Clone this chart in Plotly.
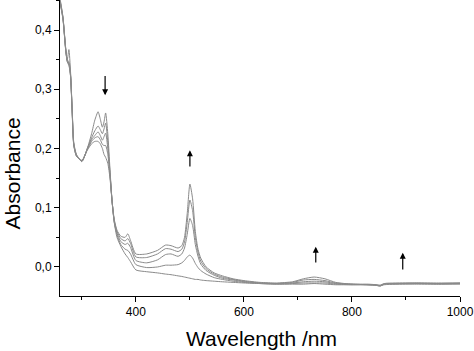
import plotly.graph_objects as go

wavelength = [260, 265, 270, 273, 276, 279, 282, 285, 290, 300, 310, 318, 324, 330, 334, 338, 341, 344, 348, 352, 356, 360,
              365, 372, 380, 385, 390, 400, 420, 440, 455, 465, 478, 485, 490, 495, 500, 505, 510, 515, 520, 530,
              545, 560, 580, 600, 630, 660, 690, 710, 730, 750, 770, 800, 830, 845, 852, 860, 880, 920, 960, 1000]

abs_a = [0.444, 0.418, 0.366, 0.346, 0.340, 0.322, 0.262, 0.205, 0.187, 0.180, 0.197, 0.208, 0.212, 0.212, 0.208, 0.200, 0.190, 0.185, 0.175, 0.150, 0.110, 0.080,
         0.062, 0.052, 0.050, 0.056, 0.045, 0.022, 0.022, 0.028, 0.037, 0.036, 0.032, 0.036, 0.050, 0.090, 0.140, 0.115, 0.060, 0.030, 0.015, 0.000,
         -0.010, -0.015, -0.020, -0.023, -0.026, -0.027, -0.025, -0.020, -0.017, -0.020, -0.026, -0.029, -0.029, -0.030, -0.031, -0.028, -0.027, -0.027, -0.027, -0.027]

abs_b = [0.446, 0.419, 0.367, 0.347, 0.342, 0.323, 0.263, 0.206, 0.187, 0.179, 0.198, 0.212, 0.218, 0.220, 0.215, 0.207, 0.205, 0.205, 0.190, 0.155, 0.110, 0.078,
         0.060, 0.048, 0.044, 0.048, 0.040, 0.017, 0.016, 0.022, 0.031, 0.030, 0.026, 0.030, 0.042, 0.075, 0.113, 0.095, 0.050, 0.025, 0.010, -0.003,
         -0.012, -0.017, -0.021, -0.024, -0.027, -0.028, -0.026, -0.022, -0.021, -0.023, -0.027, -0.029, -0.030, -0.030, -0.031, -0.028, -0.028, -0.027, -0.028, -0.027]

abs_c = [0.447, 0.420, 0.368, 0.348, 0.344, 0.324, 0.264, 0.207, 0.188, 0.179, 0.199, 0.215, 0.222, 0.228, 0.222, 0.214, 0.220, 0.226, 0.200, 0.158, 0.110, 0.076,
         0.057, 0.043, 0.038, 0.040, 0.033, 0.011, 0.007, 0.012, 0.021, 0.022, 0.018, 0.022, 0.032, 0.055, 0.082, 0.070, 0.038, 0.018, 0.005, -0.006,
         -0.014, -0.019, -0.022, -0.025, -0.027, -0.028, -0.027, -0.025, -0.024, -0.025, -0.028, -0.029, -0.030, -0.031, -0.032, -0.029, -0.028, -0.028, -0.028, -0.028]

abs_d = [0.449, 0.421, 0.369, 0.349, 0.347, 0.326, 0.266, 0.208, 0.189, 0.178, 0.200, 0.218, 0.230, 0.238, 0.232, 0.225, 0.233, 0.243, 0.210, 0.160, 0.110, 0.075,
         0.054, 0.038, 0.030, 0.028, 0.022, 0.004, -0.001, 0.000, 0.003, 0.003, 0.004, 0.007, 0.011, 0.017, 0.020, 0.015, 0.006, -0.001, -0.006, -0.012,
         -0.018, -0.021, -0.024, -0.026, -0.028, -0.029, -0.028, -0.027, -0.027, -0.027, -0.029, -0.030, -0.030, -0.031, -0.032, -0.029, -0.029, -0.028, -0.029, -0.028]

abs_e = [0.451, 0.422, 0.370, 0.350, 0.367, 0.330, 0.268, 0.210, 0.190, 0.178, 0.200, 0.225, 0.248, 0.262, 0.250, 0.236, 0.245, 0.260, 0.225, 0.165, 0.110, 0.075,
         0.050, 0.035, 0.022, 0.016, 0.009, -0.005, -0.008, -0.010, -0.012, -0.013, -0.015, -0.016, -0.017, -0.018, -0.019, -0.020, -0.021, -0.021, -0.022, -0.023,
         -0.024, -0.025, -0.026, -0.027, -0.028, -0.029, -0.029, -0.029, -0.028, -0.029, -0.030, -0.030, -0.030, -0.031, -0.032, -0.030, -0.029, -0.029, -0.029, -0.029]

series = [abs_a, abs_b, abs_c, abs_d, abs_e]

x_tickvals = [400, 600, 800, 1000]
x_ticktext = ["400", "600", "800", "1000"]
y_tickvals = [0.0, 0.1, 0.2, 0.3, 0.4]
y_ticktext = ["0,0", "0,1", "0,2", "0,3", "0,4"]

# arrows: (wavelength, tail absorbance, head absorbance)
arrows = [(343, 0.325, 0.290), (500, 0.167, 0.197), (733, 0.005, 0.034), (894, -0.007, 0.024)]

FONT = "Liberation Sans, Arial, sans-serif"

fig = go.Figure()
for ys in series:
    fig.add_trace(go.Scatter(x=wavelength, y=ys, mode="lines",
                             line=dict(color="#8a8a8a", width=1, shape="spline", smoothing=0.6),
                             showlegend=False, hoverinfo="skip"))

for (wx, y0, y1) in arrows:
    fig.add_annotation(x=wx, y=y1, ax=wx, ay=y0, xref="x", yref="y", axref="x", ayref="y",
                       text="", showarrow=True, arrowhead=2, arrowsize=1, arrowwidth=1.2,
                       arrowcolor="black")

fig.add_annotation(text="Absorbance", xref="paper", yref="paper", x=-0.12, y=0.414,
                   textangle=-90, showarrow=False, xanchor="center", yanchor="middle",
                   font=dict(family=FONT, size=21, color="black"))
fig.add_annotation(text="Wavelength /nm", xref="paper", yref="paper", x=0.5025, y=-0.142,
                   showarrow=False, xanchor="center", yanchor="middle",
                   font=dict(family=FONT, size=21, color="black"))

fig.update_layout(
    width=474, height=351,
    margin=dict(l=60, r=14, t=0, b=55),
    paper_bgcolor="white", plot_bgcolor="white",
    font=dict(family=FONT, size=12, color="black"),
    showlegend=False,
)
fig.update_xaxes(range=[259.5, 1000], showline=True, linecolor="black", linewidth=1,
                 ticks="outside", ticklen=5, tickwidth=1, tickcolor="black",
                 tickvals=x_tickvals, ticktext=x_ticktext, showgrid=False, zeroline=False,
                 minor=dict(tickvals=[300, 500, 700, 900], ticks="outside", ticklen=3, tickcolor="black", showgrid=False),
                 tickfont=dict(family=FONT, size=12, color="black"))
fig.update_yaxes(range=[-0.049, 0.4507], showline=True, linecolor="black", linewidth=1,
                 ticks="outside", ticklen=5, tickwidth=1, tickcolor="black",
                 tickvals=y_tickvals, ticktext=y_ticktext, showgrid=False, zeroline=False,
                 minor=dict(tickvals=[-0.05, 0.05, 0.15, 0.25, 0.35, 0.45], ticks="outside", ticklen=3, tickcolor="black", showgrid=False),
                 tickfont=dict(family=FONT, size=12, color="black"))

fig.write_html("out.html")
